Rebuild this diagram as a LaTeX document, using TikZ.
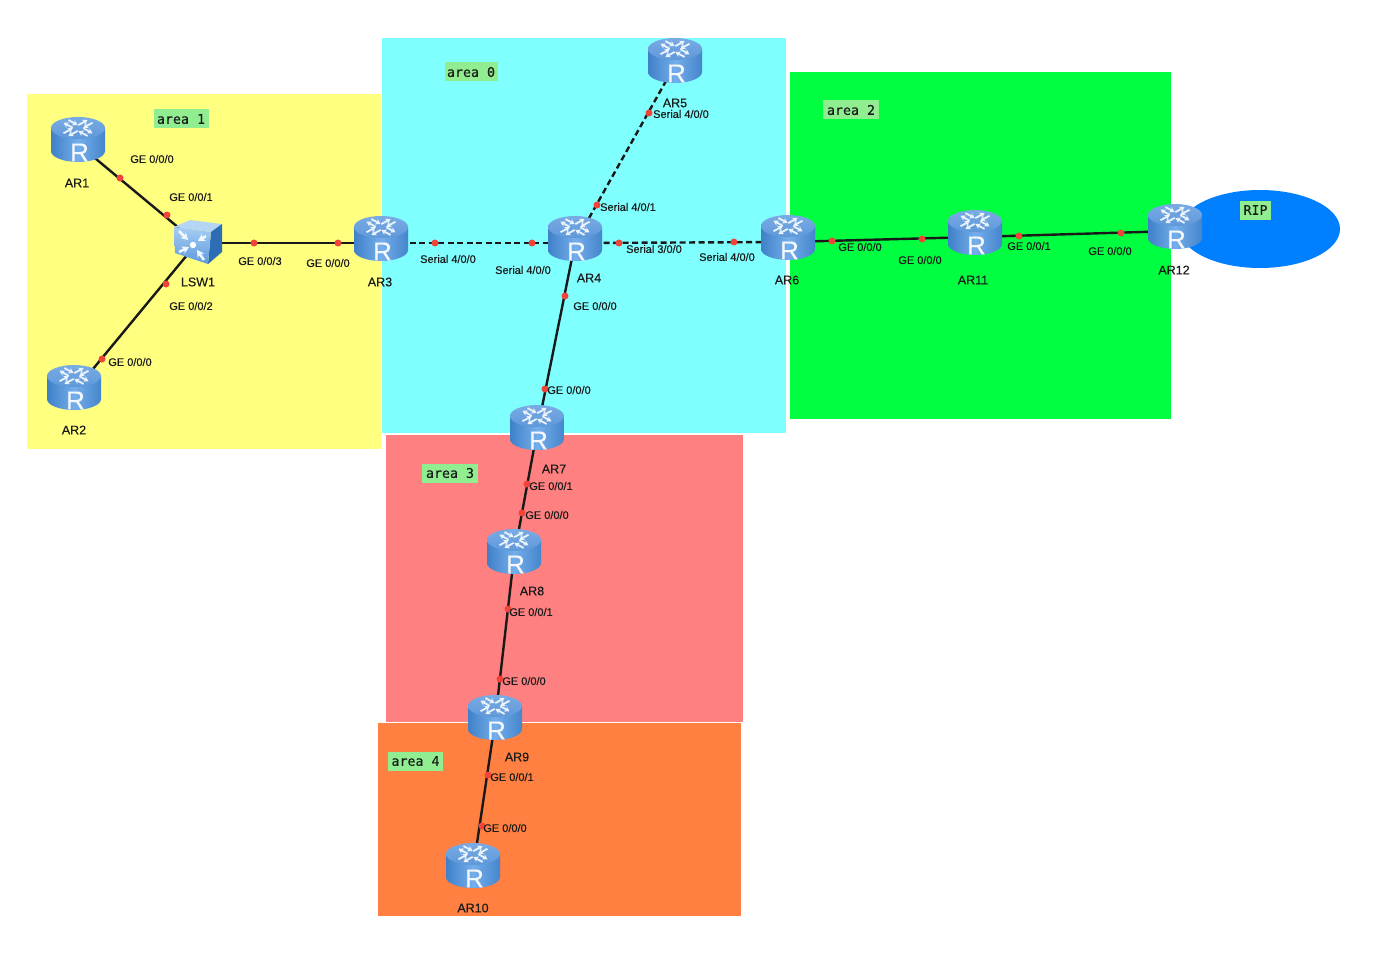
\documentclass[tikz,border=0pt]{standalone}
\usepackage{fontspec}
\setmainfont{Liberation Sans}
\newfontfamily\areamono[FakeBold=0.2]{DejaVu Sans Mono}
\newfontfamily\labelfont[FakeBold=0.25]{Liberation Sans}
\usetikzlibrary{arrows.meta}
\definecolor{zoneyellow}{HTML}{FFFF80}
\definecolor{zonecyan}{HTML}{80FFFF}
\definecolor{zonegreen}{HTML}{00FF40}
\definecolor{zonered}{HTML}{FF8080}
\definecolor{zoneorange}{HTML}{FF8040}
\definecolor{ripblue}{HTML}{0080FF}
\definecolor{taggreen}{HTML}{90EE90}
\definecolor{portred}{HTML}{F04438}
\definecolor{rtop}{HTML}{79ABE4}
\definecolor{rtopd}{HTML}{5F98DA}
\definecolor{rleft}{HTML}{3F80C8}
\definecolor{rmid}{HTML}{74AEEB}
\definecolor{rright}{HTML}{4585CC}
\definecolor{swfront}{HTML}{A6CDF3}
\definecolor{swfront2}{HTML}{5D9ADD}
\definecolor{swside}{HTML}{2C6DB4}
\definecolor{swtop}{HTML}{B5D5F5}
\definecolor{labelink}{HTML}{1A1A1A}
\tikzset{
  areatag/.style={fill=taggreen,inner sep=0pt,minimum height=19pt,font=\areamono\fontsize{13.3}{14}\selectfont,text=black!90},
  portlabel/.style={inner sep=0pt,text=labelink,font=\labelfont\fontsize{11}{12}\selectfont},
  devlabel/.style={inner sep=0pt,text=labelink,font=\labelfont\fontsize{12.5}{14}\selectfont},
  devanchor/.style={inner sep=0pt,minimum width=50pt,minimum height=46pt},
  solidlink/.style={draw=black!90,line width=2.4pt},
  seriallink/.style={draw=black!90,line width=2.4pt,dash pattern=on 6pt off 3.5pt},
  portdot/.style={circle,fill=portred,inner sep=0pt,minimum size=7pt},
  glyph/.style={white!85!rtop,line width=1.8pt},
}
\newcommand{\routericon}[1]{%
  \begin{scope}[shift={(#1.center)}]
    \path[left color=rleft,right color=rright,middle color=rmid]
      (-27,-16) -- (-27,7) arc[x radius=27,y radius=11,start angle=180,end angle=0]
      -- (27,-16) -- cycle;
    \shade[top color=rtop,bottom color=rtopd] (0,-16) ellipse[x radius=27,y radius=11];
    \begin{scope}[shift={(0,-16)},yscale=0.55]
      \foreach \a in {0,90,180,270}{
        \begin{scope}[rotate=\a+45]
          \draw[glyph,-{Stealth[length=5pt,width=6pt]}] (4,-3.5) -- (17,-3.5);
          \draw[glyph,{Stealth[length=5pt,width=6pt]}-] (4,3.5) -- (17,3.5);
        \end{scope}
      }
    \end{scope}
    \node[inner sep=0pt,text=white!92!rtop,font=\labelfont\fontsize{26}{28}\selectfont] (#1R) at (1.5,8.5) {R};
  \end{scope}}
\newcommand{\swglyph}[2]{%
  \draw[white!92!rtop,line width=2.6pt,-{Stealth[length=7pt,width=8pt]}] (#1) -- (#2);}
\def\sl{/}
\begin{document}
\begin{tikzpicture}[x=1pt,y=-1pt]
\useasboundingbox (0,0) rectangle (1379,963);
\fill[white] (0,0) rectangle (1379,963);
% zones
\fill[zoneyellow] (27,94) rectangle (381,449);
\fill[zonecyan] (382,38) rectangle (786,433);
\fill[zonegreen] (790,72) rectangle (1171,419);
\fill[zonered] (386,435) rectangle (743,722);
\fill[zoneorange] (378,723) rectangle (741,916);
\fill[ripblue] (1260,229) ellipse[x radius=80,y radius=39];
% device anchors
\foreach \n/\x/\y in {ar1/78/144,ar2/74/392,ar3/381/243,ar4/575/243,ar5/675/65,ar6/788/242,ar7/537/432,ar8/514/556,ar9/495/722,ar10/473/870,ar11/975/237,ar12/1175/231,lsw1/197/243}
  \node[devanchor] (\n) at (\x,\y) {};
% connectors
\draw[solidlink] (ar1.center) -- (lsw1.center);
\draw[solidlink] (ar2.center) -- (lsw1.center);
\draw[solidlink] (lsw1.center) -- (ar3.center);
\draw[seriallink] (ar3.center) -- (ar4.center);
\draw[seriallink] (ar4.center) -- (ar5.center);
\draw[seriallink] (ar4.center) -- (ar6.center);
\draw[solidlink] (ar4.center) -- (ar7.center);
\draw[solidlink] (ar7.center) -- (ar8.center);
\draw[solidlink] (ar8.center) -- (ar9.center);
\draw[solidlink] (ar9.center) -- (ar10.center);
\draw[solidlink] (ar6.center) -- (ar11.center);
\draw[solidlink] (ar11.center) -- (ar12.center);
% port dots
\foreach \x/\y [count=\i] in {120/178,167/215,166/284,102/359,254/243,338/243,435/243,532/243,619/243,734/242,597/205,649/113,565/296,545/389,527/484,522/513,508/609,500/679,488/775,482/826,832/241,922/239,1019/236,1121/233}
  \node[portdot] (dot\i) at (\x,\y) {};
% routers
\foreach \n in {ar1,ar2,ar3,ar4,ar5,ar6,ar7,ar8,ar9,ar10,ar11,ar12}{\routericon{\n}}
% switch
\fill[swtop] (174,227) -- (190,220) -- (222,224) -- (211,232) -- cycle;
\fill[swside] (211,232) -- (222,224) -- (222,252) -- (208,264) -- cycle;
\shade[top color=swfront,bottom color=swfront2] (174,227) -- (211,232) -- (208,264) -- (175,253) -- cycle;
\swglyph{179,231}{188,240}
\swglyph{206,236}{198,241}
\swglyph{179,252}{189,247}
\swglyph{204,260}{197,250}
\fill[white] (193,245) circle[radius=3.2];
% device labels
\foreach \t/\x/\y [count=\i] in {AR1/77/183,AR2/74/430,AR3/380/282,AR4/589/278,AR5/675/103,AR6/787/280,AR7/554/469,AR8/532/591,AR9/517/757,AR10/473/908,AR11/973/280,AR12/1174/270,LSW1/198/282}
  \node[devlabel] (dev\i) at (\x,\y) {\t};
% port labels
\foreach \x/\y/\t [count=\i] in {152/159/GE 0\sl0\sl0,191/197/GE 0\sl0\sl1,191/306/GE 0\sl0\sl2,130/362/GE 0\sl0\sl0,260/261/GE 0\sl0\sl3,328/263/GE 0\sl0\sl0,595/306/GE 0\sl0\sl0,569/390/GE 0\sl0\sl0,551/486/GE 0\sl0\sl1,547/515/GE 0\sl0\sl0,531/612/GE 0\sl0\sl1,524/681/GE 0\sl0\sl0,512/777/GE 0\sl0\sl1,505/828/GE 0\sl0\sl0,860/247/GE 0\sl0\sl0,920/260/GE 0\sl0\sl0,1029/246/GE 0\sl0\sl1,1110/251/GE 0\sl0\sl0,448/259/Serial 4\sl0\sl0,523/270/Serial 4\sl0\sl0,654/249/Serial 3\sl0\sl0,727/257/Serial 4\sl0\sl0,628/207/Serial 4\sl0\sl1,681/114/Serial 4\sl0\sl0}
  \node[portlabel] (port\i) at (\x,\y) {\t};
% area tags
\node[areatag,minimum width=53pt] (tag0) at (471,72) {area 0};
\node[areatag,minimum width=55pt] (tag1) at (181,119) {area 1};
\node[areatag,minimum width=56pt] (tag2) at (851,110) {area 2};
\node[areatag,minimum width=56pt] (tag3) at (450,473) {area 3};
\node[areatag,minimum width=55pt] (tag4) at (415.5,761) {area 4};
\node[areatag,minimum width=31pt] (tagrip) at (1255.5,210) {RIP};
\end{tikzpicture}
\end{document}
